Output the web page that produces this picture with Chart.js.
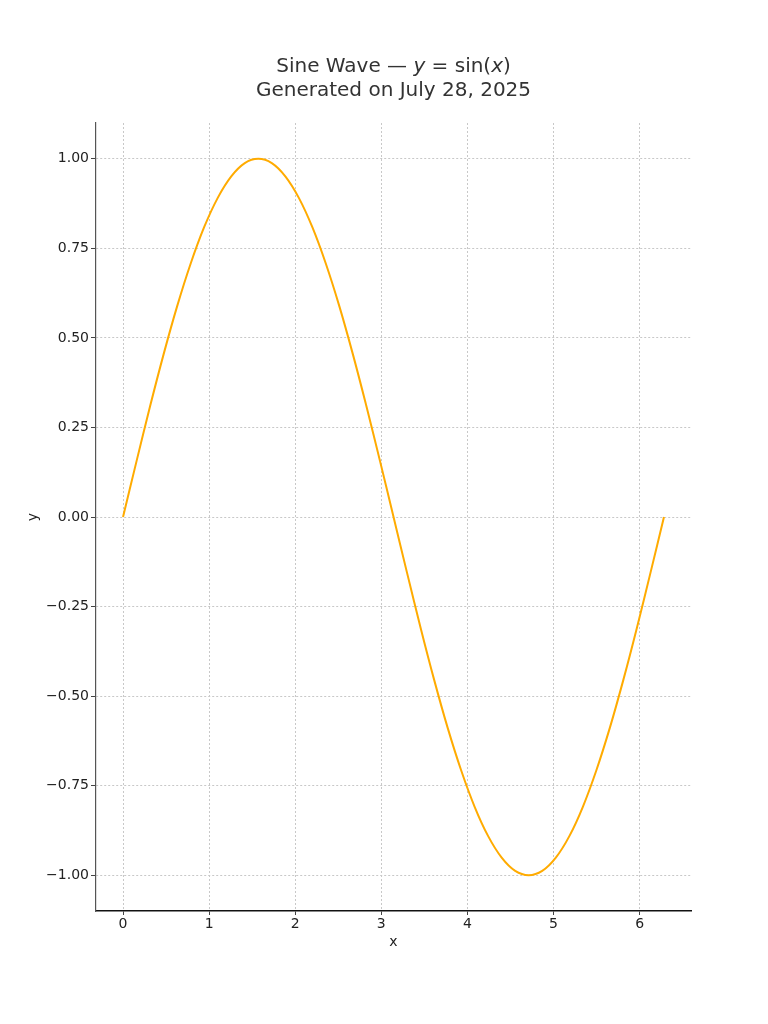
<!DOCTYPE html>
<html>
<head>
<meta charset="utf-8">
<script src="https://cdn.jsdelivr.net/npm/chart.js@4"></script>
<style>
  html, body { margin: 0; padding: 0; background: #fff; }
  #wrap { width: 768px; height: 1024px; }
</style>
</head>
<body>
<div id="wrap"><canvas id="sine"></canvas></div>
<script>
// x positions of the samples
const xValues = [0, 0.157, 0.314, 0.471, 0.628, 0.785, 0.942, 1.100, 1.257, 1.414, 1.571, 1.728, 1.885, 2.042, 2.199, 2.356, 2.513, 2.670, 2.827, 2.985,
  3.142, 3.299, 3.456, 3.613, 3.770, 3.927, 4.084, 4.241, 4.398, 4.555, 4.712, 4.869, 5.027, 5.184, 5.341, 5.498, 5.655, 5.812, 5.969, 6.126, 6.283];
// y values read at each of those x positions
const yValues = [0, 0.156, 0.309, 0.454, 0.588, 0.707, 0.809, 0.891, 0.951, 0.988, 1.000, 0.988, 0.951, 0.891, 0.809, 0.707, 0.588, 0.454, 0.309, 0.156,
  0.000, -0.156, -0.309, -0.454, -0.588, -0.707, -0.809, -0.891, -0.951, -0.988, -1.000, -0.988, -0.951, -0.891, -0.809, -0.707, -0.588, -0.454, -0.309, -0.156, 0.000];
const xTicks = [0, 1, 2, 3, 4, 5, 6];
const yTicks = [-1.00, -0.75, -0.50, -0.25, 0.00, 0.25, 0.50, 0.75, 1.00];

const titleLine1 = [
  ['Sine Wave \u2014 ', false], ['y', true], [' = ', false], ['sin(', false], ['x', true], [')', false]
];
const titleLine2 = 'Generated on July 28, 2025';

const FONT = '"DejaVu Sans", sans-serif';

// Title with the italic math bits
const titlePlugin = {
  id: 'mathTitle',
  afterDraw(chart) {
    const ctx = chart.ctx;
    const cx = (chart.chartArea.left + chart.chartArea.right) / 2;
    ctx.save();
    ctx.fillStyle = '#333';
    ctx.textBaseline = 'alphabetic';
    ctx.textAlign = 'left';
    let total = 0;
    titleLine1.forEach(function(seg){
      ctx.font = (seg[1] ? 'italic ' : '') + '20px ' + FONT;
      total += ctx.measureText(seg[0]).width;
    });
    let x = cx - total / 2;
    titleLine1.forEach(function(seg){
      ctx.font = (seg[1] ? 'italic ' : '') + '20px ' + FONT;
      ctx.fillText(seg[0], x, 72);
      x += ctx.measureText(seg[0]).width;
    });
    ctx.font = '20px ' + FONT;
    ctx.textAlign = 'center';
    ctx.fillText(titleLine2, cx, 96);
    ctx.restore();
  }
};

const fmt = function(v){ return v.toFixed(2).replace('-', '\u2212'); };

new Chart(document.getElementById('sine'), {
  type: 'line',
  data: {
    datasets: [{
      data: xValues.map(function(x, i){ return { x: x, y: yValues[i] }; }),
      borderColor: '#ffab00',
      borderWidth: 2,
      pointRadius: 0,
      tension: 0.4,
      fill: false
    }]
  },
  options: {
    responsive: true,
    maintainAspectRatio: false,
    animation: false,
    layout: { padding: { top: 123, left: 25, right: 77, bottom: 73 } },
    plugins: { legend: { display: false }, tooltip: { enabled: false }, title: { display: false } },
    scales: {
      x: {
        type: 'linear',
        min: -0.314,
        max: 6.597,
        afterBuildTicks: function(scale){ scale.ticks = xTicks.map(function(v){ return { value: v }; }); },
        afterFit: function(scale){ scale.height = 1024 - 73 - 911; },
        ticks: { color: '#222', font: { family: FONT, size: 14 }, padding: 1, callback: function(v){ return String(v); } },
        grid: { color: '#c8c8c8', tickColor: '#444', tickLength: 4, tickBorderDash: [], drawTicks: true },
        border: { display: true, color: '#111', width: 1.5, dash: [2, 2] },
        title: { display: true, text: 'x', color: '#222', font: { family: FONT, size: 14 }, padding: 0 }
      },
      y: {
        min: -1.1,
        max: 1.1,
        afterBuildTicks: function(scale){ scale.ticks = yTicks.map(function(v){ return { value: v }; }); },
        afterFit: function(scale){ scale.width = 96 - 25; },
        ticks: { color: '#222', font: { family: FONT, size: 14 }, padding: 2, callback: function(v){ return fmt(v); } },
        grid: { color: '#c8c8c8', tickColor: '#444', tickLength: 5, tickBorderDash: [], drawTicks: true },
        border: { display: true, color: '#555', width: 1.2, dash: [2, 2] },
        title: { display: true, text: 'y', color: '#222', font: { family: FONT, size: 14 }, padding: 0 }
      }
    }
  },
  plugins: [titlePlugin]
});
</script>
</body>
</html>
